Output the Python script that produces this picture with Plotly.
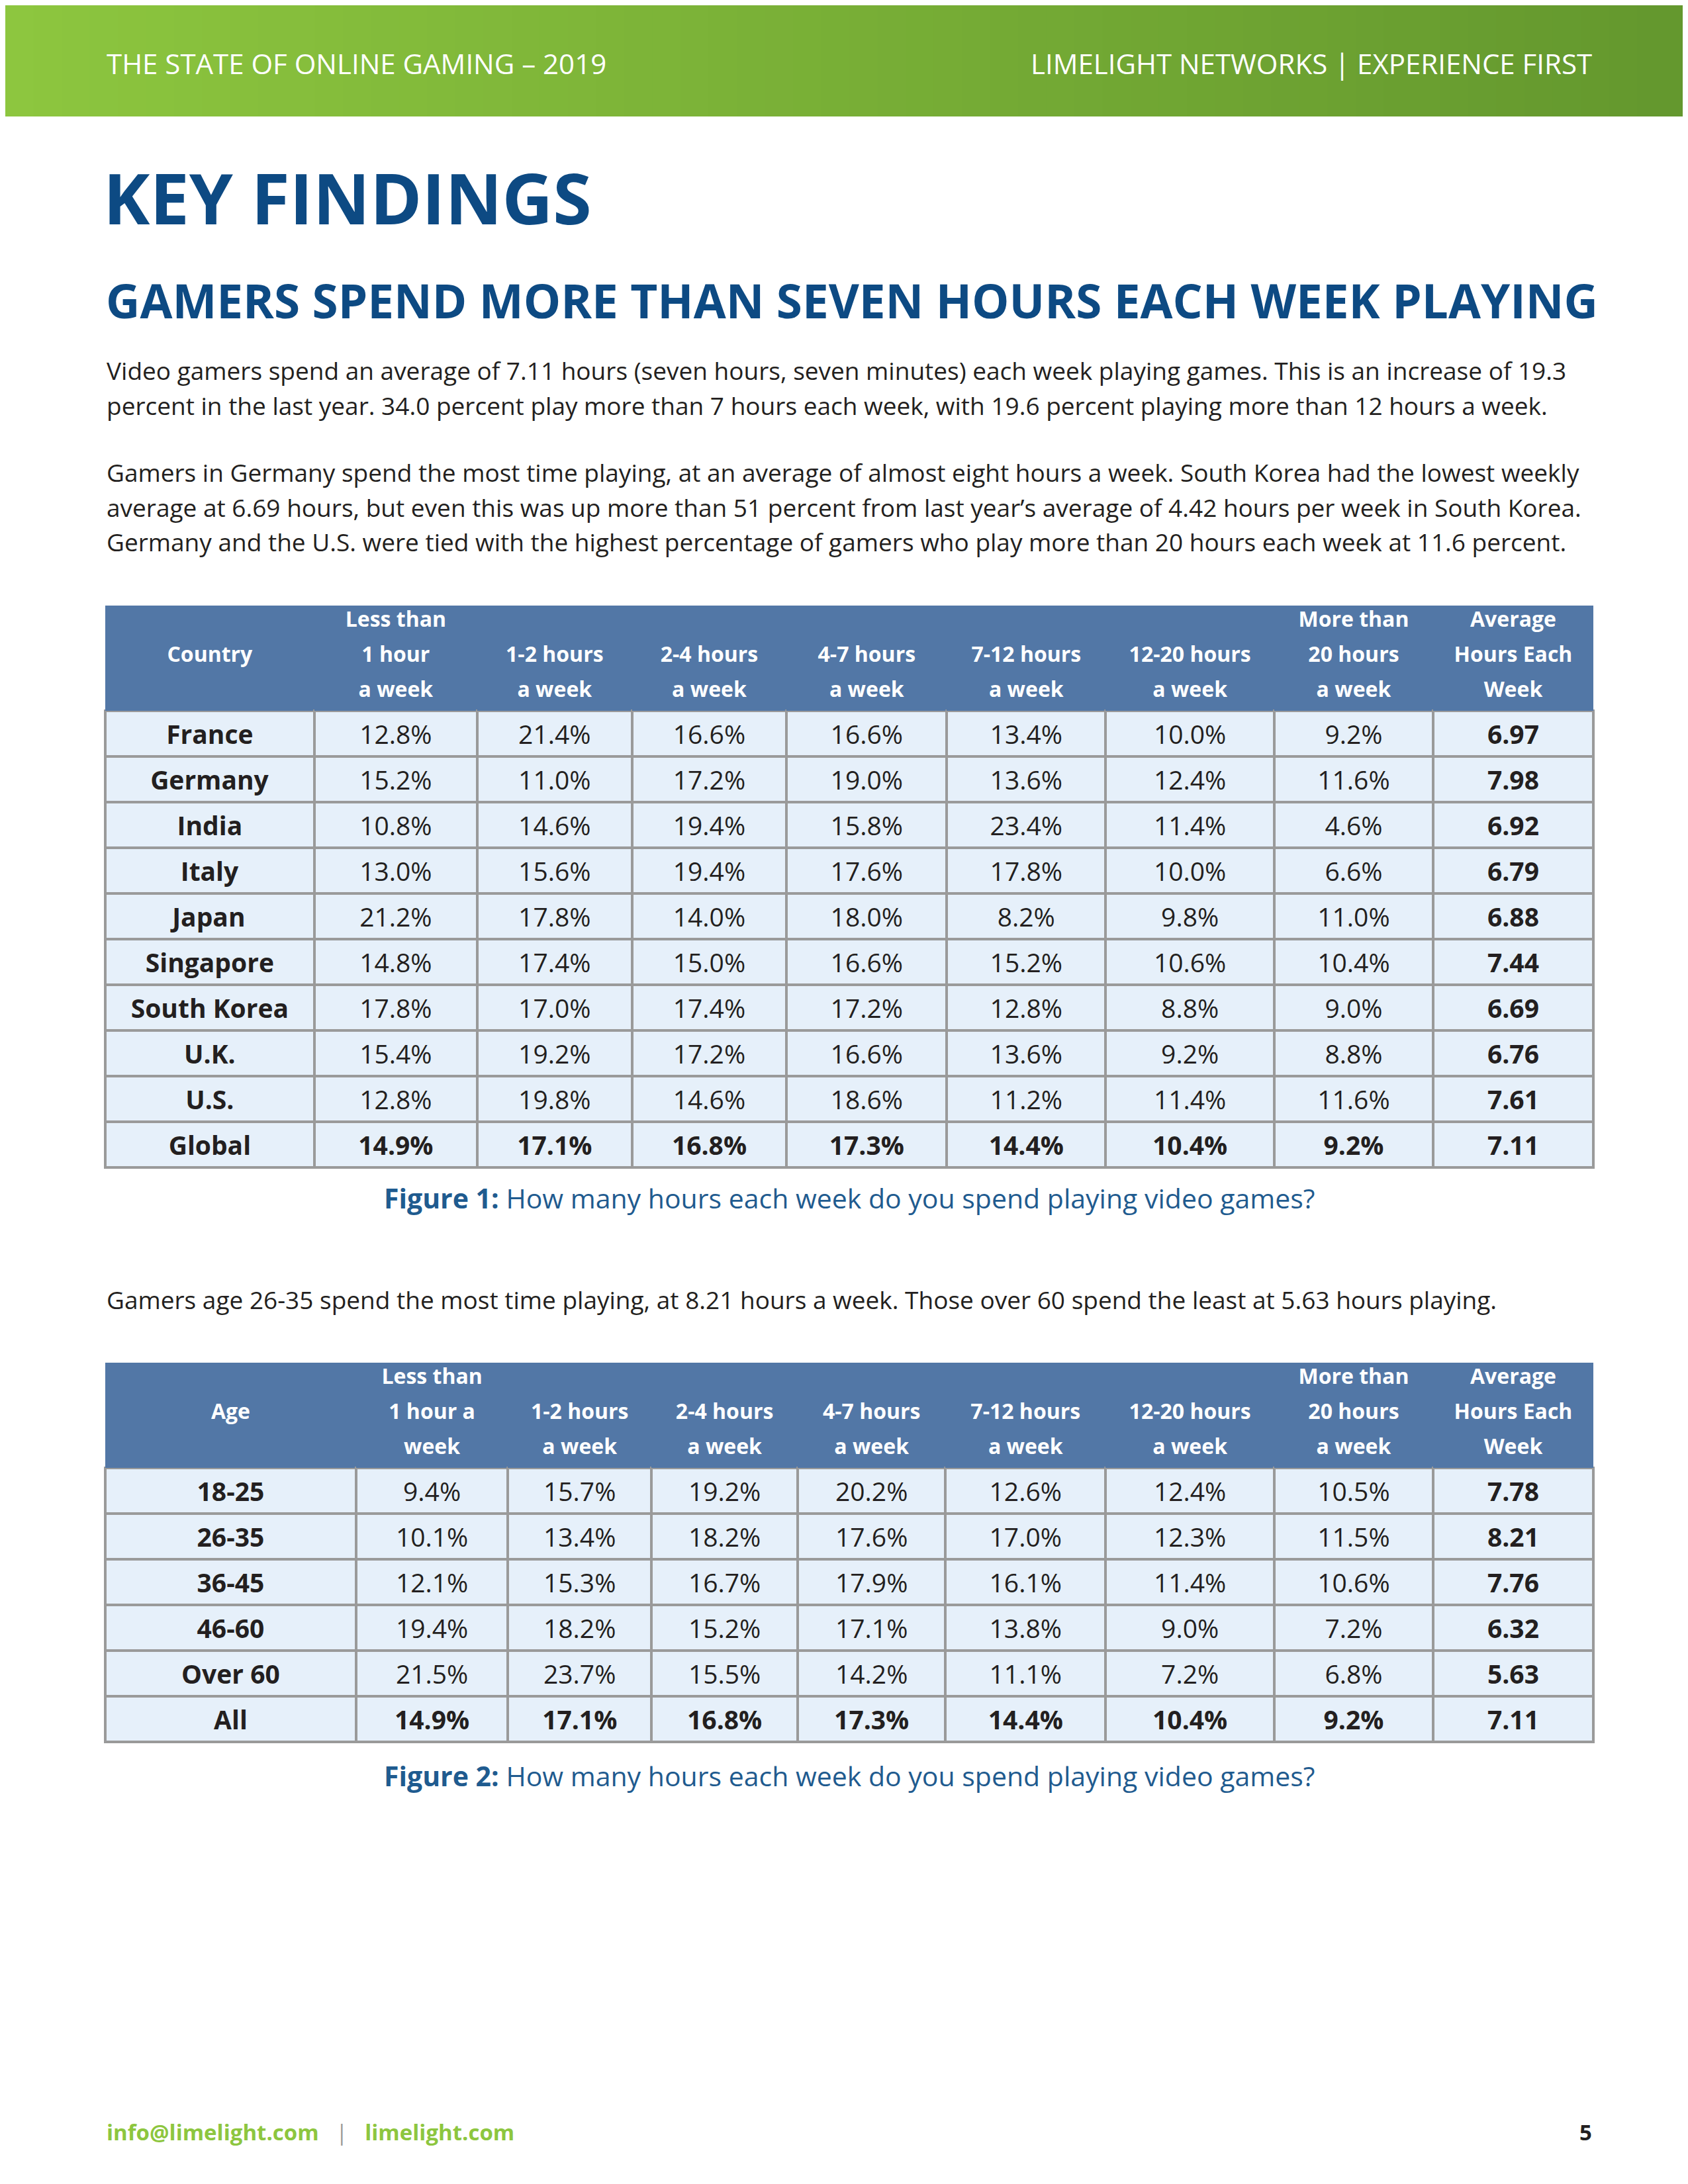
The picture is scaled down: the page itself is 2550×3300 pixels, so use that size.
import plotly.graph_objects as go

W, H = 2550, 3300

countries = ["France", "Germany", "India", "Italy", "Japan", "Singapore",
             "South Korea", "U.K.", "U.S.", "Global"]
c_lt1 = [12.8, 15.2, 10.8, 13.0, 21.2, 14.8, 17.8, 15.4, 12.8, 14.9]
c_1_2 = [21.4, 11.0, 14.6, 15.6, 17.8, 17.4, 17.0, 19.2, 19.8, 17.1]
c_2_4 = [16.6, 17.2, 19.4, 19.4, 14.0, 15.0, 17.4, 17.2, 14.6, 16.8]
c_4_7 = [16.6, 19.0, 15.8, 17.6, 18.0, 16.6, 17.2, 16.6, 18.6, 17.3]
c_7_12 = [13.4, 13.6, 23.4, 17.8, 8.2, 15.2, 12.8, 13.6, 11.2, 14.4]
c_12_20 = [10.0, 12.4, 11.4, 10.0, 9.8, 10.6, 8.8, 9.2, 11.4, 10.4]
c_gt20 = [9.2, 11.6, 4.6, 6.6, 11.0, 10.4, 9.0, 8.8, 11.6, 9.2]
c_avg = [6.97, 7.98, 6.92, 6.79, 6.88, 7.44, 6.69, 6.76, 7.61, 7.11]

ages = ["18-25", "26-35", "36-45", "46-60", "Over 60", "All"]
a_lt1 = [9.4, 10.1, 12.1, 19.4, 21.5, 14.9]
a_1_2 = [15.7, 13.4, 15.3, 18.2, 23.7, 17.1]
a_2_4 = [19.2, 18.2, 16.7, 15.2, 15.5, 16.8]
a_4_7 = [20.2, 17.6, 17.9, 17.1, 14.2, 17.3]
a_7_12 = [12.6, 17.0, 16.1, 13.8, 11.1, 14.4]
a_12_20 = [12.4, 12.3, 11.4, 9.0, 7.2, 10.4]
a_gt20 = [10.5, 11.5, 10.6, 7.2, 6.8, 9.2]
a_avg = [7.78, 8.21, 7.76, 6.32, 5.63, 7.11]

hdr1 = [["Country"], ["Less than", "1 hour", "a week"], ["1-2 hours", "a week"], ["2-4 hours", "a week"],
        ["4-7 hours", "a week"], ["7-12 hours", "a week"], ["12-20 hours", "a week"],
        ["More than", "20 hours", "a week"], ["Average", "Hours Each", "Week"]]
hdr2 = [["Age"], ["Less than", "1 hour a", "week"]] + hdr1[2:]

BLUE_HDR = "#5277a6"
CELL = "#e6f0fa"
NAVY = "#0d4a83"
TXT = "#231f20"


def px_x(v):
    return v / W


def px_y(v):
    return 1 - v / H


def header_rows(lines):
    # each header line goes in its own header row so every line is centred
    if len(lines) == 3:
        return list(lines)
    if len(lines) == 2:
        return ["", lines[0], lines[1]]
    return ["", lines[0], ""]


def columns(labels, series, avg):
    cols = [["<span>%s</span>" % s for s in labels]]
    weights = ["bold"]
    for s in series:
        col = ["<span>%.1f%%</span>" % v for v in s]
        col[-1] = "<b>%.1f%%</b>" % s[-1]
        cols.append(col)
        weights.append("normal")
    cols.append(["<span>%.2f</span>" % v for v in avg])
    weights.append("bold")
    return cols, weights


def make_table(hdr, cw, widths, x0, x1, y0, y1):
    cols, weights = cw
    return go.Table(
        columnwidth=widths,
        domain=dict(x=[px_x(x0), px_x(x1)], y=[px_y(y1), px_y(y0)]),
        header=dict(values=[header_rows(h) for h in hdr], fill_color=BLUE_HDR,
                    line=dict(color=BLUE_HDR, width=0), height=53, align="center",
                    font=dict(family="Open Sans", size=32, color="white", weight="bold")),
        cells=dict(values=cols, fill_color=CELL, line=dict(color="#9a9a9a", width=4),
                   height=69, align="center",
                   font=dict(family="Open Sans", size=39, color=TXT, weight=weights)),
    )


t1 = make_table(hdr1, columns(countries, [c_lt1, c_1_2, c_2_4, c_4_7, c_7_12, c_12_20, c_gt20], c_avg),
                [150, 117, 111, 111, 115, 114, 121, 114, 115], 151, 2399, 907, 1760)
t2 = make_table(hdr2, columns(ages, [a_lt1, a_1_2, a_2_4, a_4_7, a_7_12, a_12_20, a_gt20], a_avg),
                [180, 109, 103, 105, 106, 115, 121, 114, 115], 151, 2399, 2051, 2640)

fig = go.Figure([t1, t2])

# gradient header bar
shapes = []
n = 60
for i in range(n):
    f = i / (n - 1)
    r = int(0x8d + (0x64 - 0x8d) * f)
    g = int(0xc6 + (0x98 - 0xc6) * f)
    b = int(0x3f + (0x2e - 0x3f) * f)
    shapes.append(dict(type="rect", xref="paper", yref="paper",
                       x0=i / n, x1=(i + 1) / n + 0.001, y0=px_y(168), y1=1,
                       fillcolor="rgb(%d,%d,%d)" % (r, g, b), line=dict(width=0), layer="below"))

ann = []


def text(x, y, s, size, color, anchor="left", family="Open Sans", bold=False):
    ann.append(dict(x=px_x(x), y=px_y(y), xref="paper", yref="paper", text="<b>%s</b>" % s if bold else s,
                    showarrow=False, xanchor=anchor, yanchor="middle", align="left",
                    font=dict(family=family, size=size, color=color)))


text(151, 88, "THE STATE OF ONLINE GAMING – 2019", 42, "white")
text(2399, 88, "LIMELIGHT NETWORKS | EXPERIENCE FIRST", 42, "white", anchor="right")
text(146, 290, "KEY FINDINGS", 106, NAVY, bold=True)
text(150, 446, "GAMERS SPEND MORE THAN SEVEN HOURS EACH WEEK PLAYING", 71, NAVY, bold=True)

body = 37
text(151, 551, "Video gamers spend an average of 7.11 hours (seven hours, seven minutes) each week playing games. This is an increase of 19.3", body, TXT)
text(151, 604, "percent in the last year. 34.0 percent play more than 7 hours each week, with 19.6 percent playing more than 12 hours a week.", body, TXT)
text(151, 705, "Gamers in Germany spend the most time playing, at an average of almost eight hours a week. South Korea had the lowest weekly", body, TXT)
text(151, 758, "average at 6.69 hours, but even this was up more than 51 percent from last year’s average of 4.42 hours per week in South Korea.", body, TXT)
text(151, 811, "Germany and the U.S. were tied with the highest percentage of gamers who play more than 20 hours each week at 11.6 percent.", body, TXT)
text(151, 1955, "Gamers age 26-35 spend the most time playing, at 8.21 hours a week. Those over 60 spend the least at 5.63 hours playing.", body, TXT)

text(1275, 1802, "<b>Figure 1:</b> How many hours each week do you spend playing video games?", 41, "#1f5b8f", anchor="center")
text(1275, 2675, "<b>Figure 2:</b> How many hours each week do you spend playing video games?", 41, "#1f5b8f", anchor="center")

text(151, 3213, "<b>info@limelight.com</b>   <span style='color:#999'>|</span>   <b>limelight.com</b>", 33, "#8dc63f")
text(2399, 3213, "5", 33, TXT, anchor="right", bold=True)

fig.update_layout(width=W, height=H, margin=dict(l=0, r=0, t=0, b=0),
                  paper_bgcolor="white", plot_bgcolor="white",
                  shapes=shapes, annotations=ann)

fig.write_html("out.html")
